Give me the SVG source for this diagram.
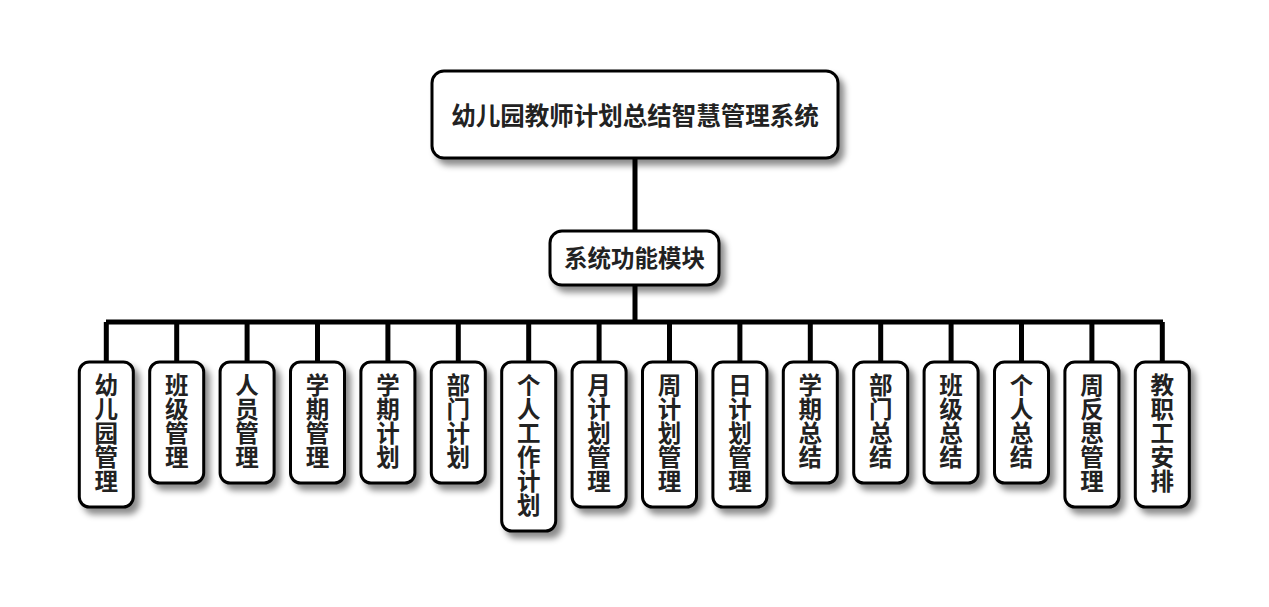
<svg xmlns="http://www.w3.org/2000/svg" width="1269" height="607" viewBox="0 0 1269 607">
<defs>
<filter id="sh" x="-30%" y="-30%" width="160%" height="160%">
<feDropShadow dx="5" dy="6" stdDeviation="3" flood-color="#000" flood-opacity="0.45"/>
</filter>
<style>
.box{fill:#fff;stroke:#000;stroke-width:3;filter:url(#sh)}
.t{font-family:"Noto Sans CJK SC","Noto Sans",sans-serif;font-weight:bold;fill:#222;text-anchor:middle}
.c{font-size:23.5px}
.ln{stroke:#000;stroke-width:5;fill:none}
</style>
</defs>
<rect width="1269" height="607" fill="#fff"/>
<g id="connectors">
<path class="ln" d="M635,158V231M635,285V322M106,322H1163"/>
<path class="ln" d="M106.3,322V362M176.7,322V362M247.1,322V362M317.5,322V362M387.9,322V362M458.3,322V362M528.7,322V362M599.1,322V362M669.5,322V362M739.9,322V362M810.3,322V362M880.7,322V362M951.1,322V362M1021.5,322V362M1091.9,322V362M1162.3,322V362"/>
</g>
<g id="root"><rect class="box" x="432" y="71" width="406" height="87" rx="12"/><text class="t" x="635" y="125" font-size="24.5">幼儿园教师计划总结智慧管理系统</text></g>
<g id="modules"><rect class="box" x="550" y="231" width="169" height="54" rx="12"/><text class="t" x="634.5" y="266.5" font-size="23.5">系统功能模块</text></g>
<g id="n1"><rect class="box" x="79.3" y="362" width="54" height="145" rx="10"/><text class="t c" x="106.3" y="394"><tspan x="106.3">幼</tspan><tspan x="106.3" dy="24">儿</tspan><tspan x="106.3" dy="24">园</tspan><tspan x="106.3" dy="24">管</tspan><tspan x="106.3" dy="24">理</tspan></text></g>
<g id="n2"><rect class="box" x="149.7" y="362" width="54" height="121" rx="10"/><text class="t c" x="176.7" y="394"><tspan x="176.7">班</tspan><tspan x="176.7" dy="24">级</tspan><tspan x="176.7" dy="24">管</tspan><tspan x="176.7" dy="24">理</tspan></text></g>
<g id="n3"><rect class="box" x="220.1" y="362" width="54" height="121" rx="10"/><text class="t c" x="247.1" y="394"><tspan x="247.1">人</tspan><tspan x="247.1" dy="24">员</tspan><tspan x="247.1" dy="24">管</tspan><tspan x="247.1" dy="24">理</tspan></text></g>
<g id="n4"><rect class="box" x="290.5" y="362" width="54" height="121" rx="10"/><text class="t c" x="317.5" y="394"><tspan x="317.5">学</tspan><tspan x="317.5" dy="24">期</tspan><tspan x="317.5" dy="24">管</tspan><tspan x="317.5" dy="24">理</tspan></text></g>
<g id="n5"><rect class="box" x="360.9" y="362" width="54" height="121" rx="10"/><text class="t c" x="387.9" y="394"><tspan x="387.9">学</tspan><tspan x="387.9" dy="24">期</tspan><tspan x="387.9" dy="24">计</tspan><tspan x="387.9" dy="24">划</tspan></text></g>
<g id="n6"><rect class="box" x="431.3" y="362" width="54" height="121" rx="10"/><text class="t c" x="458.3" y="394"><tspan x="458.3">部</tspan><tspan x="458.3" dy="24">门</tspan><tspan x="458.3" dy="24">计</tspan><tspan x="458.3" dy="24">划</tspan></text></g>
<g id="n7"><rect class="box" x="501.7" y="362" width="54" height="169" rx="10"/><text class="t c" x="528.7" y="394"><tspan x="528.7">个</tspan><tspan x="528.7" dy="24">人</tspan><tspan x="528.7" dy="24">工</tspan><tspan x="528.7" dy="24">作</tspan><tspan x="528.7" dy="24">计</tspan><tspan x="528.7" dy="24">划</tspan></text></g>
<g id="n8"><rect class="box" x="572.1" y="362" width="54" height="145" rx="10"/><text class="t c" x="599.1" y="394"><tspan x="599.1">月</tspan><tspan x="599.1" dy="24">计</tspan><tspan x="599.1" dy="24">划</tspan><tspan x="599.1" dy="24">管</tspan><tspan x="599.1" dy="24">理</tspan></text></g>
<g id="n9"><rect class="box" x="642.5" y="362" width="54" height="145" rx="10"/><text class="t c" x="669.5" y="394"><tspan x="669.5">周</tspan><tspan x="669.5" dy="24">计</tspan><tspan x="669.5" dy="24">划</tspan><tspan x="669.5" dy="24">管</tspan><tspan x="669.5" dy="24">理</tspan></text></g>
<g id="n10"><rect class="box" x="712.9" y="362" width="54" height="145" rx="10"/><text class="t c" x="739.9" y="394"><tspan x="739.9">日</tspan><tspan x="739.9" dy="24">计</tspan><tspan x="739.9" dy="24">划</tspan><tspan x="739.9" dy="24">管</tspan><tspan x="739.9" dy="24">理</tspan></text></g>
<g id="n11"><rect class="box" x="783.3" y="362" width="54" height="121" rx="10"/><text class="t c" x="810.3" y="394"><tspan x="810.3">学</tspan><tspan x="810.3" dy="24">期</tspan><tspan x="810.3" dy="24">总</tspan><tspan x="810.3" dy="24">结</tspan></text></g>
<g id="n12"><rect class="box" x="853.7" y="362" width="54" height="121" rx="10"/><text class="t c" x="880.7" y="394"><tspan x="880.7">部</tspan><tspan x="880.7" dy="24">门</tspan><tspan x="880.7" dy="24">总</tspan><tspan x="880.7" dy="24">结</tspan></text></g>
<g id="n13"><rect class="box" x="924.1" y="362" width="54" height="121" rx="10"/><text class="t c" x="951.1" y="394"><tspan x="951.1">班</tspan><tspan x="951.1" dy="24">级</tspan><tspan x="951.1" dy="24">总</tspan><tspan x="951.1" dy="24">结</tspan></text></g>
<g id="n14"><rect class="box" x="994.5" y="362" width="54" height="121" rx="10"/><text class="t c" x="1021.5" y="394"><tspan x="1021.5">个</tspan><tspan x="1021.5" dy="24">人</tspan><tspan x="1021.5" dy="24">总</tspan><tspan x="1021.5" dy="24">结</tspan></text></g>
<g id="n15"><rect class="box" x="1064.9" y="362" width="54" height="145" rx="10"/><text class="t c" x="1091.9" y="394"><tspan x="1091.9">周</tspan><tspan x="1091.9" dy="24">反</tspan><tspan x="1091.9" dy="24">思</tspan><tspan x="1091.9" dy="24">管</tspan><tspan x="1091.9" dy="24">理</tspan></text></g>
<g id="n16"><rect class="box" x="1135.3" y="362" width="54" height="145" rx="10"/><text class="t c" x="1162.3" y="394"><tspan x="1162.3">教</tspan><tspan x="1162.3" dy="24">职</tspan><tspan x="1162.3" dy="24">工</tspan><tspan x="1162.3" dy="24">安</tspan><tspan x="1162.3" dy="24">排</tspan></text></g>
</svg>
